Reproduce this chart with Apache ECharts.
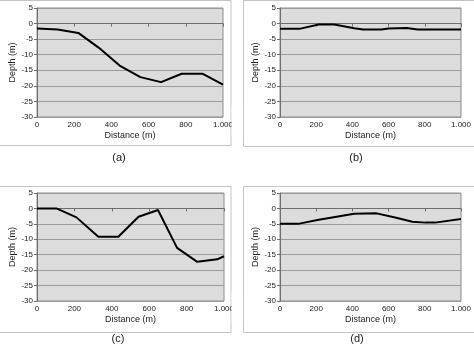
<!DOCTYPE html>
<html>
<head>
<meta charset="utf-8">
<script src="https://cdn.jsdelivr.net/npm/echarts@6/dist/echarts.min.js"></script>
<style>
  html, body { margin: 0; padding: 0; background: #fff; }
  #chart { width: 474px; height: 347px; }
</style>
</head>
<body>
<div id="chart"></div>
<script>
// Bed profiles: depth (m) against distance along the transect (m)
const distA = [0, 111, 222, 333, 444, 556, 667, 778, 889, 1000];
const depthA = [-1.6, -1.9, -3.0, -7.8, -13.5, -17.2, -18.8, -16.1, -16.1, -19.6];

const distB = [0, 107, 214, 300, 410, 460, 560, 600, 700, 760, 1000];
const depthB = [-1.7, -1.7, -0.3, -0.3, -1.5, -1.9, -1.9, -1.6, -1.4, -1.9, -1.9];

const distC = [0, 104, 211, 328, 435, 543, 647, 749, 857, 964, 1000];
const depthC = [0, 0, -2.9, -9.2, -9.2, -2.7, -0.5, -12.8, -17.3, -16.5, -15.5];

const distD = [0, 100, 214, 321, 409, 534, 642, 731, 804, 857, 1000];
const depthD = [-5, -5, -3.7, -2.6, -1.7, -1.6, -3.0, -4.3, -4.6, -4.6, -3.4];

const panelLabels = ['(a)', '(b)', '(c)', '(d)'];
const xTicks = { min: 0, max: 1000, interval: 200 };
const yTicks = { min: -30, max: 5, interval: 5 };

const profiles = [
  [distA, depthA],
  [distB, depthB],
  [distC, depthC],
  [distD, depthD]
];

// panel geometry: plot rectangles, outer frames and caption centres
const plots = [
  { left: 37, top: 8, width: 186, height: 109 },
  { left: 280, top: 8, width: 187, height: 109 },
  { left: 37, top: 193, width: 187, height: 108 },
  { left: 280, top: 193, width: 187, height: 108 }
];
const frames = [
  { x: -1, y: 0.5, w: 232, h: 145 },
  { x: 243.5, y: 0.5, w: 232, h: 146 },
  { x: -1, y: 186.5, w: 232, h: 146 },
  { x: 243.5, y: 186.5, w: 232, h: 146 }
];
const captions = [
  { x: 119, y: 159 },
  { x: 356, y: 159 },
  { x: 118, y: 340 },
  { x: 357, y: 340 }
];

const font = 'Liberation Sans, Arial, sans-serif';
const textColor = '#222';

function fmtThousands(v) {
  return v >= 1000 ? String(v).replace(/(\d)(?=(\d{3})+$)/g, '$1.') : String(v);
}

const grid = plots.map(p => ({
  left: p.left, top: p.top, width: p.width, height: p.height,
  show: true, backgroundColor: '#dcdcdc', borderColor: '#8c8c8c', borderWidth: 1
}));

const xAxis = plots.map((p, i) => ({
  type: 'value', gridIndex: i,
  min: xTicks.min, max: xTicks.max, interval: xTicks.interval,
  name: 'Distance (m)', nameLocation: 'middle', nameGap: 14,
  nameTextStyle: { fontFamily: font, fontSize: 9, color: textColor },
  axisLine: { show: true, lineStyle: { color: '#6e6e6e', width: 1 } },
  axisTick: { show: true, length: 3, lineStyle: { color: '#6e6e6e' } },
  axisLabel: { fontFamily: font, fontSize: 8, color: textColor, margin: 4, formatter: fmtThousands },
  splitLine: { show: false }
}));

const yAxis = plots.map((p, i) => ({
  type: 'value', gridIndex: i,
  min: yTicks.min, max: yTicks.max, interval: yTicks.interval,
  name: 'Depth (m)', nameLocation: 'middle', nameGap: 20, nameRotate: 90,
  nameTextStyle: { fontFamily: font, fontSize: 9, color: textColor },
  axisLine: { show: true, lineStyle: { color: '#6e6e6e', width: 1 } },
  axisTick: { show: true, length: 3, lineStyle: { color: '#6e6e6e' } },
  axisLabel: { fontFamily: font, fontSize: 8, color: textColor, margin: 4 },
  splitLine: { show: true, lineStyle: { color: '#9a9a9a', width: 1 } }
}));

const series = profiles.map(([d, z], i) => ({
  type: 'line', xAxisIndex: i, yAxisIndex: i,
  data: d.map((x, k) => [x, z[k]]),
  showSymbol: false, symbol: 'none',
  lineStyle: { color: '#000', width: 2 },
  animation: false
}));

const title = captions.map((c, i) => ({
  text: panelLabels[i], left: c.x, top: c.y - 7, padding: 0,
  textAlign: 'center',
  textStyle: { fontFamily: font, fontSize: 11, fontWeight: 'normal', color: textColor }
}));

// white frame boxes behind each panel
const graphic = frames.map(f => ({
  type: 'rect', z: -10, silent: true,
  shape: { x: f.x, y: f.y, width: f.w, height: f.h },
  style: { fill: '#fff', stroke: '#c4c4c4', lineWidth: 1 }
}));
// the frame edge clips the last tick label of the left-hand panels
[0, 2].forEach(i => {
  const f = frames[i];
  graphic.push({
    type: 'rect', z: 100, silent: true,
    shape: { x: f.x + f.w + 0.6, y: f.y + 105, width: 11.5, height: 30 },
    style: { fill: '#fff', stroke: null }
  });
});

const chart = echarts.init(document.getElementById('chart'), null, { renderer: 'canvas' });
chart.setOption({
  animation: false,
  backgroundColor: '#fff',
  title, grid, xAxis, yAxis, series, graphic
});
</script>
</body>
</html>
